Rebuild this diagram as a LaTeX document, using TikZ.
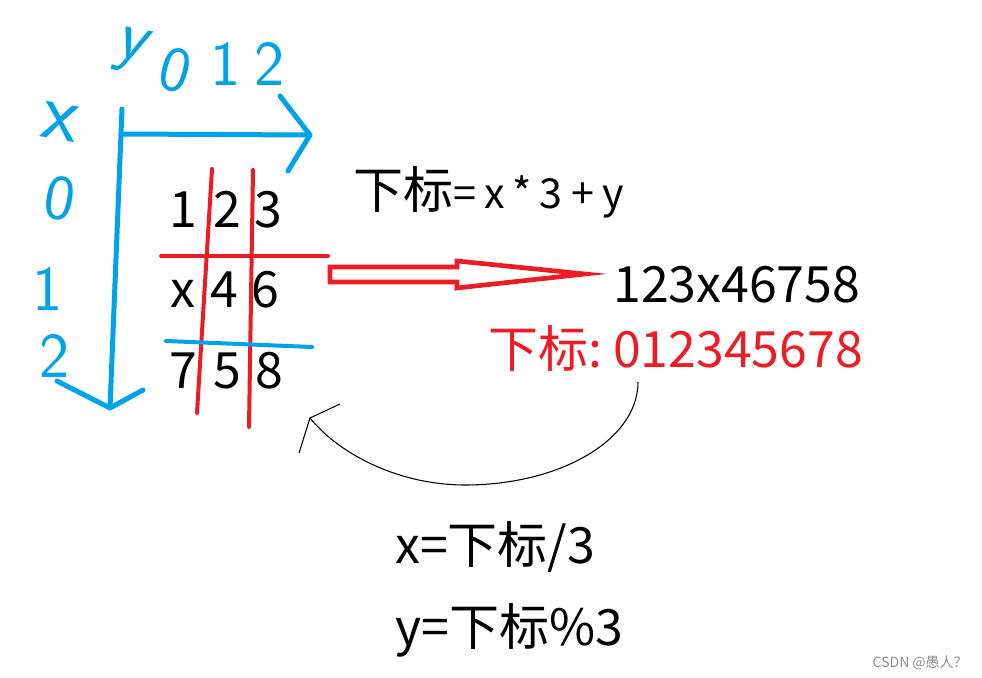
\documentclass[tikz,border=0pt]{standalone}
\usepackage{fontspec}
\newfontfamily\cjk{Noto Sans CJK SC}
\definecolor{paintred}{RGB}{237,28,36}
\definecolor{paintblue}{RGB}{0,162,232}

\tikzset{
    cell/.style={inner sep=0pt, anchor=base, font=\cjk\fontsize{37.5}{42}\selectfont},
    txt/.style={inner sep=0pt, anchor=base west, font=\cjk\fontsize{37.5}{42}\selectfont},
    hand/.style={inner sep=0pt, text=paintblue, font=\sffamily\fontsize{48}{52}\selectfont},
    gridline/.style={paintred, line width=3pt, line cap=round},
    axis/.style={paintblue, line width=3.75pt, line cap=round, line join=round},
    hollow/.style={paintred, line width=3.5pt, line join=miter},
}

\begin{document}
\begin{tikzpicture}[x=0.75pt,y=-0.75pt]
                    \useasboundingbox (0,0) rectangle (982,678);

                    % axes
                    \coordinate (origin) at (122,134);
                    \coordinate (yend) at (310,135);
                    \coordinate (xend) at (110,408);
                    \draw[axis] (122,109) -- (xend);
                    \draw[axis] (origin) -- (yend);
                    \draw[axis] (280,96) -- (yend) -- (288,171);
                    \draw[axis] (57,381) -- (xend) -- (143,390);

                    \node[hand, rotate=-10, scale=1.1] (hy) at (130,50) {\itshape y};
                    \node[hand, rotate=-15] (hy0) at (175,70) {0};
                    \node[hand] (hy1) at (226,64) {1};
                    \node[hand] (hy2) at (270,64) {2};
                    \node[hand, rotate=-10, scale=1.3] (hx) at (60,122) {x};
                    \node[hand, rotate=-10] (hx0) at (60,198) {0};
                    \node[hand] (hx1) at (48,289) {1};
                    \node[hand] (hx2) at (55,356) {2};

                    % grid
                    \node[cell] (g11) at (183,227) {1};
                    \node[cell] (g12) at (227,227) {2};
                    \node[cell] (g13) at (268,227) {3};
                    \node[cell] (g21) at (183,307) {x};
                    \node[cell] (g22) at (224,307) {4};
                    \node[cell] (g23) at (265,307) {6};
                    \node[cell] (g31) at (183,388) {7};
                    \node[cell] (g32) at (227,388) {5};
                    \node[cell] (g33) at (269,388) {8};

                    \draw[gridline] (212,169) -- (197,413);
                    \draw[gridline] (253,170) -- (249,427);
                    \draw[gridline] (161,256) -- (328,256);
                    \draw[paintblue, line width=3pt, line cap=round] (166,341) -- (312,347);

                    % text
                    \node[txt] (formula) at (353,208) {下标{\addfontfeatures{LetterSpace=20}\fontsize{31}{34}\selectfont=x*3+y}};
                    \node[txt] (seq) at (613,302) {123x46758};
                    \node[txt, text=paintred] (idx) at (488,367) {下标:\hspace{0.22em}012345678};
                    \node[txt] (fx) at (395,563) {x=下标/3};
                    \node[txt] (fy) at (395,645) {y=下标\%3};

                    % hollow arrow
                    \coordinate (arrL) at (330,274);
                    \coordinate (arrR) at (585,274);
                    \draw[hollow] (arrL) ++(0,-7) -- ++(127,0) -- ++(0,-6) -- (arrR)
                                  -- ++(-128,14) -- ++(0,-6) -- ++(-127,0) -- cycle;

                    % back arrow
                    \coordinate (backS) at (638,382);
                    \coordinate (backE) at (310,418);
                    \draw[line width=0.8pt] (backS) .. controls (638,440) and (560,485) .. (465,485)
                                  .. controls (400,485) and (340,455) .. (backE);
                    \draw[line width=0.8pt] (backE) -- ++(30,-14);
                    \draw[line width=0.8pt] (backE) -- ++(-11,35);

                    \node[inner sep=0pt, anchor=base east, text=black!45, font=\cjk\fontsize{10.5}{12}\selectfont] (mark) at (968,667) {CSDN @愚人？};

                \end{tikzpicture}
\end{document}
